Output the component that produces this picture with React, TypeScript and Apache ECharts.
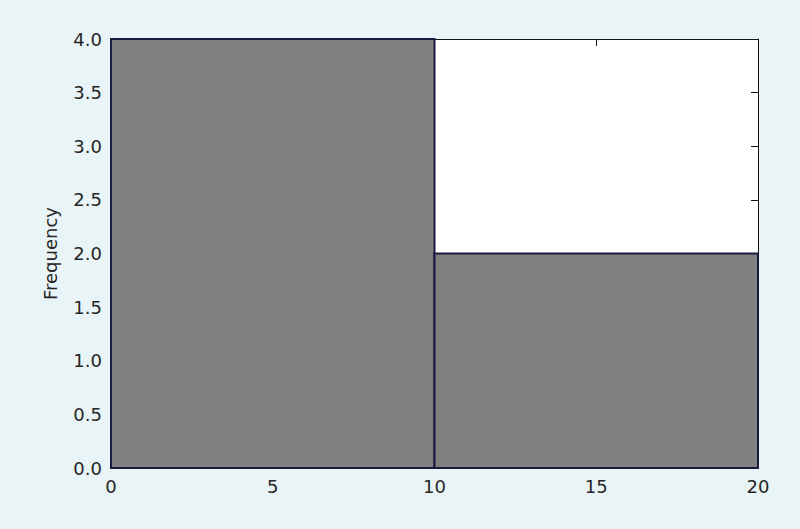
import React, { useEffect, useRef } from 'react'
import * as echarts from 'echarts'

// histogram bins: [start, end] and counts
const binStarts = [0, 10]
const binEnds = [10, 20]
const counts = [4, 2]
const yTicks = [0, 0.5, 1, 1.5, 2, 2.5, 3, 3.5, 4]
const xTicks = [0, 5, 10, 15, 20]

const font = 'DejaVu Sans'
const textColor = '#262626'

export default function App() {
  const ref = useRef<HTMLDivElement | null>(null)

  useEffect(() => {
    if (!ref.current) return
    const chart = echarts.init(ref.current, undefined, { renderer: 'svg' })

    const data = counts.map((c, i) => [binStarts[i], binEnds[i], c])

    const xBase = {
      type: 'value' as const,
      min: xTicks[0],
      max: xTicks[xTicks.length - 1],
      interval: 5,
      splitLine: { show: false },
      axisLine: { show: true, onZero: false, lineStyle: { color: '#111', width: 1 } },
      axisTick: { show: true, inside: true, length: 7, lineStyle: { color: '#111' } },
    }
    const yBase = {
      type: 'value' as const,
      min: yTicks[0],
      max: yTicks[yTicks.length - 1],
      interval: 0.5,
      splitLine: { show: false },
      axisLine: { show: true, onZero: false, lineStyle: { color: '#111', width: 1 } },
      axisTick: { show: true, inside: true, length: 7, lineStyle: { color: '#111' } },
    }

    const opt: echarts.EChartsOption = {
      animation: false,
      backgroundColor: '#e9f4f7',
      grid: { left: 111, right: 42, top: 39, bottom: 61, backgroundColor: '#ffffff', show: true, borderWidth: 0 },
      xAxis: [
        {
          ...xBase,
          position: 'bottom',
          axisLabel: { color: textColor, fontFamily: font, fontSize: 18, margin: 9 },
        },
        { ...xBase, position: 'top', axisLabel: { show: false } },
      ],
      yAxis: [
        {
          ...yBase,
          position: 'left',
          name: 'Frequency',
          nameLocation: 'middle',
          nameGap: 52,
          nameTextStyle: { color: textColor, fontFamily: font, fontSize: 18 },
          axisLabel: {
            color: textColor, fontFamily: font, fontSize: 18, margin: 9,
            formatter: (v: number) => v.toFixed(1),
          },
        },
        { ...yBase, position: 'right', axisLabel: { show: false } },
      ],
      series: [
        {
          type: 'custom',
          xAxisIndex: 0,
          yAxisIndex: 0,
          data,
          encode: { x: [0, 1], y: 2 },
          renderItem: (params: any, api: any) => {
            const p0 = api.coord([api.value(0), api.value(2)])
            const p1 = api.coord([api.value(1), 0])
            return {
              type: 'rect',
              shape: { x: p0[0], y: p0[1], width: p1[0] - p0[0], height: p1[1] - p0[1] },
              style: { fill: '#808080', stroke: '#1b1b3f', lineWidth: 2 },
            }
          },
        },
      ],
    }

    chart.setOption(opt)
    return () => chart.dispose()
  }, [])

  return (
    <div
      ref={ref}
      style={{ width: 800, height: 529, position: 'absolute', left: 0, top: 0 }}
    />
  )
}
